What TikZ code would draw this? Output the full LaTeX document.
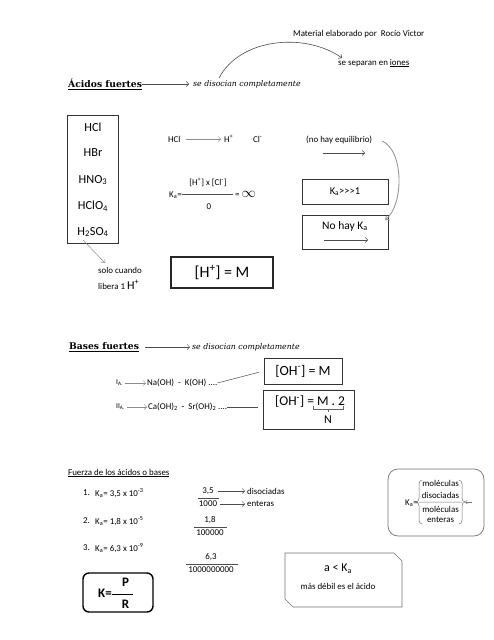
\documentclass[tikz,border=0pt]{standalone}
\usepackage{fontspec}
\setmainfont{Carlito}
\newfontfamily\hdfont{DejaVu Serif}
\usetikzlibrary{arrows.meta}
\begin{document}
\begin{tikzpicture}[x=1pt,y=-1pt,
  t/.style={inner sep=0pt, font=\fontsize{8.9}{10.7}\selectfont},
  tm/.style={inner sep=0pt, font=\fontsize{12.3}{14}\selectfont},
  hd/.style={inner sep=0pt, font=\hdfont\bfseries\fontsize{9.2}{11}\selectfont},
  itx/.style={inner sep=0pt, font=\hdfont\itshape\fontsize{7.8}{10}\selectfont},
  box/.style={draw=black!80, line width=0.6pt, inner sep=0pt},
  tbox/.style={draw=black!85, line width=1.2pt, inner sep=0pt},
  arr/.style={draw=black!70, line width=0.5pt, -{Straight Barb[length=2.5pt,width=5pt]}},
  garr/.style={draw=black!45, line width=0.5pt, -{Straight Barb[length=2.5pt,width=5pt]}},
  ln/.style={draw=black!70, line width=0.5pt}]
\useasboundingbox[fill=white] (0,0) rectangle (494,640);

% header
\node[t, anchor=west] (mat) at (293,34) {Material elaborado por\ \ Rocío Victor};
\node[t, anchor=west] (sep) at (338,63) {se separan en \underline{iones}};
\node[hd, anchor=west] (acid) at (68,84) {\underline{Ácidos fuertes}};
\node[itx, anchor=west] (dis1) at (193,84) {se disocian completamente};
\draw[arr, shorten >=4pt] (acid.east) -- (dis1.west);
\coordinate (arcS) at (219,78);
\coordinate (arcE) at (342,58);
\draw[arr, line width=0.6pt] (arcS) .. controls (240,38) and (305,32) .. (arcE);

% acid list box
\node[box, minimum width=51pt, minimum height=128pt] (abox) at (92.5,179) {};
\node[tm] (a1) at (93,127) {HCl};
\node[tm] (a2) at (93,153) {HBr};
\node[tm] (a3) at (93,180) {HNO\textsubscript{3}};
\node[tm] (a4) at (93,206) {HClO\textsubscript{4}};
\node[tm] (a5) at (93,232) {H\textsubscript{2}SO\textsubscript{4}};
\node[t, anchor=west] (solo) at (98,270) {solo cuando};
\node[t, anchor=west] (lib) at (98,285) {libera 1 {\fontsize{12}{12}\selectfont H\textsuperscript{+}}};
\coordinate (sA) at (83,240);
\coordinate (sB) at (105,263);
\draw[garr] (sA) -- (sB);

\node[tbox, minimum width=102pt, minimum height=31pt, font=\fontsize{16}{18}\selectfont] (hm) at (222,272.5) {[H\textsuperscript{+}] = M};

% reaction
\node[t, anchor=west] (r1) at (168,139) {HCl};
\node[t, anchor=west] (r2) at (224,139) {H\textsuperscript{+}};
\node[t, anchor=west] (r3) at (253,139) {Cl\textsuperscript{-}};
\draw[garr, shorten <=5pt, shorten >=3pt] (r1.east) -- (r2.west);

% Ka formula
\node[t, anchor=west] (ka) at (169,195) {K\textsubscript{a}=};
\coordinate (kfe) at (233,194);
\draw[ln] (ka.east |- kfe) -- (kfe);
\node[t] (num) at (208,182) {[H\textsuperscript{+}] x [Cl\textsuperscript{-}]};
\node[t] (den) at (209,207) {0};
\node[t, anchor=west] (inf) at (235,194) {= {\fontsize{14}{14}\selectfont$\mathbf{\infty}$}};

% no hay equilibrio
\node[t, anchor=west] (neq) at (306,140) {(no hay equilibrio)};
\coordinate (q1) at (323,153);
\coordinate (q2) at (365,153);
\draw[arr] (q1) -- (q2);
\node[box, minimum width=86pt, minimum height=25pt, font=\fontsize{10.5}{12}\selectfont] (kbig) at (345,191.5) {K\textsubscript{a}{>}{>}{>}1};
\node[box, minimum width=86pt, minimum height=34pt] (nhk) at (345,232) {};
\node[inner sep=0pt, font=\fontsize{11.5}{13}\selectfont] (nht) at (345,226) {No hay K\textsubscript{a}};
\coordinate (w1) at (324,240);
\coordinate (w2) at (368,240);
\draw[arr] (w1) -- (w2);
\coordinate (cS) at (382,141);
\coordinate (cE) at (385,220);
\draw[draw=black!40, line width=0.9pt, -{Straight Barb[length=3pt,width=5pt]}] (cS) .. controls (404,150) and (404,205) .. (cE);

% bases
\node[hd, anchor=west] (bases) at (69,347) {\underline{Bases fuertes}};
\node[itx, anchor=west] (dis2) at (192,347) {se disocian completamente};
\draw[arr, shorten <=6pt, shorten >=2pt] (bases.east) -- (dis2.west);

\node[inner sep=0pt, font=\fontsize{7.5}{9}\selectfont, anchor=west] (ia) at (116,383) {I\textsubscript{A.}};
\node[t, anchor=west] (na) at (147,383) {Na(OH)\ \ -\ \ K(OH) ....};
\draw[garr, shorten <=2pt, shorten >=1pt] (ia.east) -- (na.west);
\node[box, minimum width=78pt, minimum height=26pt, font=\fontsize{14}{16}\selectfont] (oh1) at (303,371) {[OH\textsuperscript{-}] = M};
\draw[ln, shorten >=5pt] (na.east) -- (oh1.west);

\node[inner sep=0pt, font=\fontsize{7.5}{9}\selectfont, anchor=west] (iia) at (116,407) {II\textsubscript{A.}};
\node[t, anchor=west] (ca) at (148,407) {Ca(OH)\textsubscript{2}\ \ -\ \ Sr(OH)\textsubscript{2} ....};
\draw[garr, shorten <=2pt, shorten >=1pt] (iia.east) -- (ca.west);
\node[box, line width=1pt, minimum width=91pt, minimum height=39pt] (oh2) at (308.5,409.5) {};
\node[inner sep=0pt, font=\fontsize{13.5}{16}\selectfont, anchor=west] (oh2t) at (275,402) {[OH\textsuperscript{-}] = M . 2};
\draw[draw=black!60, line width=0.5pt] (313,406) -- (313,409) -- (343,409) -- (343,406) (328,409) -- (328,412);
\node[inner sep=0pt, font=\fontsize{12}{14}\selectfont] (nn) at (328,420) {N};
\draw[ln, shorten >=5pt] (ca.east) -- (oh2.west |- ca.east);

% fuerza
\node[t, anchor=west] (fz) at (68,473) {\underline{Fuerza de los ácidos o bases}};
\node[t, anchor=west] (l1) at (83,493) {1.};
\node[t, anchor=west] (k1) at (95,493) {K\textsubscript{a}= 3,5 x 10\textsuperscript{-3}};
\node[t, anchor=west] (l2) at (83,521) {2.};
\node[t, anchor=west] (k2) at (95,521) {K\textsubscript{a}= 1,8 x 10\textsuperscript{-5}};
\node[t, anchor=west] (l3) at (83,548) {3.};
\node[t, anchor=west] (k3) at (95,548) {K\textsubscript{a}= 6,3 x 10\textsuperscript{-9}};

\node[t] (f1n) at (208,491) {3,5};
\draw[ln] (198,498) -- (219,498);
\node[t] (f1d) at (208,504) {1000};
\node[t, anchor=west] (dsc) at (247,491) {disociadas};
\node[t, anchor=west] (ent) at (247,504) {enteras};
\draw[arr, shorten <=4pt, shorten >=2pt] (f1n.east) -- (dsc.west);
\draw[arr, shorten <=3pt, shorten >=2pt] (f1d.east) -- (ent.west);

\node[t] (f2n) at (210,520) {1,8};
\draw[ln] (194,527) -- (227,527);
\node[t] (f2d) at (210,533) {100000};

\node[t] (f3n) at (211,557) {6,3};
\draw[ln] (186,564) -- (238,564);
\node[t] (f3d) at (211,570) {1000000000};

% K=P/R
\node[draw=black, line width=1.4pt, rounded corners=6pt, minimum width=70pt, minimum height=39pt] (kpr) at (118,592.5) {};
\node[inner sep=0pt, font=\bfseries\fontsize{13}{15}\selectfont, anchor=west] (keq) at (98,593.5) {K=};
\node[inner sep=0pt, font=\bfseries\fontsize{13}{15}\selectfont] (pp) at (125.5,582) {P};
\node[inner sep=0pt, font=\bfseries\fontsize{13}{15}\selectfont] (rr) at (125.5,604) {R};
\draw[line width=0.8pt] ([yshift=-0.5pt]keq.east) -- ++(21,0);

% a < Ka
\draw[draw=black!55, line width=0.7pt] (285,553) -- (394,553) -- (402,561) -- (402,607) -- (293,607) -- (285,599) -- cycle;
\node[inner sep=0pt, font=\fontsize{12}{14}\selectfont] (alk) at (338,569) {a < K\textsubscript{a}};
\node[t] (mdb) at (338,586) {más débil es el ácido};

% Ka molecules box
\node[draw=black!55, line width=0.7pt, rounded corners=10pt, minimum width=96pt, minimum height=67pt] (kmb) at (436,502.5) {};
\node[t, anchor=west] (kmk) at (405,503) {K\textsubscript{a}=};
\coordinate (jL) at (416,502);
\coordinate (jR) at (465,502);
\draw[ln, draw=black!55] (kmk.east |- jL) -- (jL);
\draw[draw=black!55, line width=0.5pt]
  (422,480) to[out=180,in=90] (419,484) -- (419,498) to[out=-90,in=0] (jL)
  (jL) to[out=0,in=90] (419,506) -- (419,520) to[out=-90,in=180] (422,524)
  (459,480) to[out=0,in=90] (462,484) -- (462,498) to[out=-90,in=180] (jR)
  (jR) to[out=180,in=90] (462,506) -- (462,520) to[out=-90,in=0] (459,524)
  (419,502) -- (462,502);
\coordinate (jA) at (472,502);
\draw[draw=black!55, line width=0.5pt, -{Straight Barb[length=2pt,width=4pt]}] (jA) -- (jR);
\node[t] (m1) at (440.5,483) {moléculas};
\node[t] (m2) at (440.5,495.5) {disociadas};
\node[t] (m3) at (440.5,509) {moléculas};
\node[t] (m4) at (440.5,520) {enteras};
\end{tikzpicture}
\end{document}
